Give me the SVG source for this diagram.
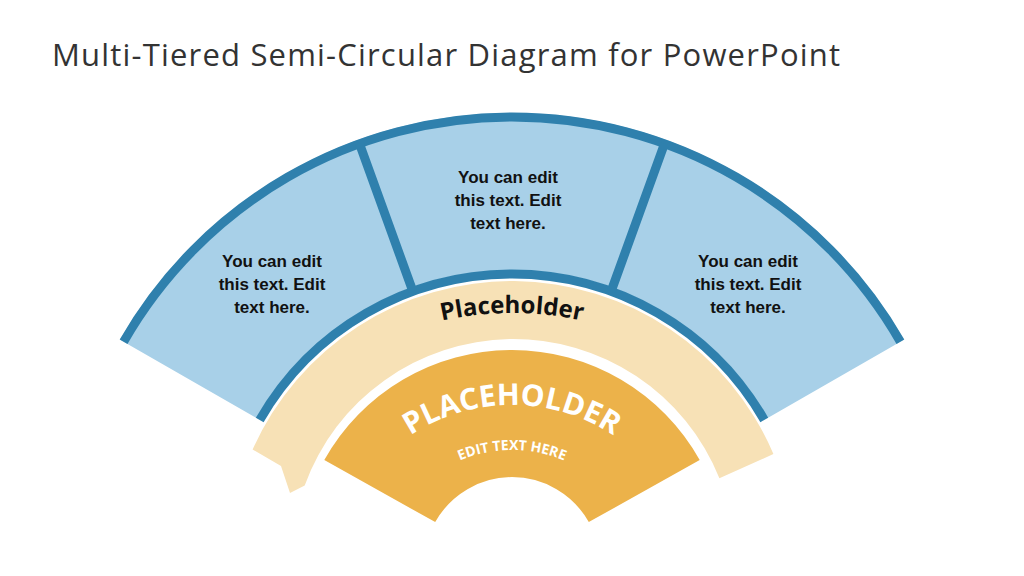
<svg xmlns="http://www.w3.org/2000/svg" width="1024" height="576" viewBox="0 0 1024 576">
<style>
.t{font-family:"Liberation Sans",Arial,sans-serif;font-weight:bold;font-size:17px;fill:#111;text-anchor:middle}
.d{fill:none;stroke:#2f80ad;stroke-width:9}
</style>
<defs>
<path id="p1" d="M 187 638 A 325 325 0 0 1 837 638"/>
<path id="p2" d="M 327 590 A 185 185 0 0 1 697 590"/>
<path id="p3" d="M 377 585 A 135 135 0 0 1 647 585"/>
</defs>
<rect width="1024" height="576" fill="#fff"/>
<text x="52" y="66" font-family="'Open Sans','Liberation Sans',sans-serif" font-size="31" fill="#333" textLength="788">Multi-Tiered Semi-Circular Diagram for PowerPoint</text>
<g id="blue">
<path d="M 120.1 339.7 A 452 452 0 0 1 903.9 339.7 L 767.7 417.9 A 295 295 0 0 0 256.3 417.9 Z" fill="#a8d0e8"/>
<path class="d" d="M 123.6 341.7 A 448 448 0 0 1 900.4 341.7"/>
<path class="d" d="M 259.7 419.9 A 291 291 0 0 1 764.3 419.9"/>
<path class="d" d="M 412.9 291.4 L 359.5 143.8 M 611.1 291.4 L 664.5 143.8"/>
</g>
<g id="b1"><text class="t"><tspan x="272" y="267">You can edit</tspan><tspan x="272" y="290">this text. Edit</tspan><tspan x="272" y="313">text here.</tspan></text></g>
<g id="b2"><text class="t"><tspan x="508" y="183">You can edit</tspan><tspan x="508" y="206">this text. Edit</tspan><tspan x="508" y="229">text here.</tspan></text></g>
<g id="b3"><text class="t"><tspan x="748" y="267">You can edit</tspan><tspan x="748" y="290">this text. Edit</tspan><tspan x="748" y="313">text here.</tspan></text></g>
<g id="band">
<path d="M 252.6 449.5 A 284 284 0 0 1 773.4 454 L 719.4 478.3 A 222 222 0 0 0 304.7 485.4 L 290 493 L 281 466 Z" fill="#f7e1b6"/>
<text font-family="'Open Sans','Liberation Sans',sans-serif" font-weight="bold" font-size="24" fill="#111" text-anchor="middle"><textPath href="#p1" startOffset="50%">Placeholder</textPath></text>
</g>
<g id="core">
<path d="M 324.3 460.1 A 215 215 0 0 1 699.7 460.1 L 588.8 522.1 A 88 88 0 0 0 435.2 522.1 Z" fill="#ecb24a"/>
<text font-family="'Open Sans','Liberation Sans',sans-serif" font-weight="bold" font-size="30" fill="#fff" text-anchor="middle"><textPath href="#p2" startOffset="50%">PLACEHOLDER</textPath></text>
<text font-family="'Open Sans','Liberation Sans',sans-serif" font-weight="bold" font-size="14" fill="#fff" text-anchor="middle"><textPath href="#p3" startOffset="50%">EDIT TEXT HERE</textPath></text>
</g>
</svg>
